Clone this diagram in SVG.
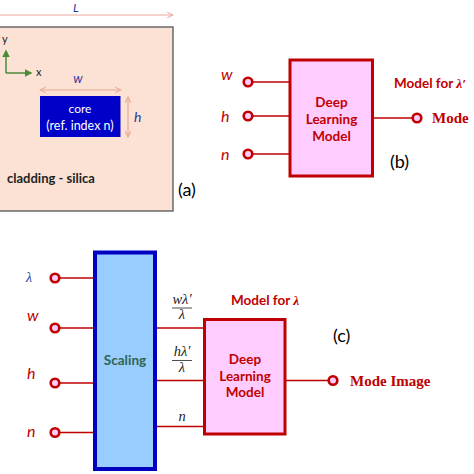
<svg xmlns="http://www.w3.org/2000/svg" width="474" height="474" viewBox="0 0 474 474">
<defs>
<style>
.sans{font-family:Lato,"Open Sans","Liberation Sans",sans-serif}
.it{font-family:Lato,"Liberation Sans",sans-serif;font-style:italic}
.dim{stroke:#e8a898;stroke-width:1.2;fill:none}
.dl{fill:#ffccff;stroke:#c00000;stroke-width:3}
.dlt{font-family:Lato,"Open Sans","Liberation Sans",sans-serif;font-weight:bold;font-size:13.5px;fill:#c00000;text-anchor:middle}
.wire{stroke:#c00000;stroke-width:1.4;fill:none}
.port{fill:#ffccff;stroke:#c00000;stroke-width:2.6}
.lab{font-family:Lato,"Liberation Sans",sans-serif;font-style:italic;font-size:16px;fill:#c00000}
.frac{font-family:"Liberation Serif",serif;font-style:italic;font-size:14.5px;fill:#222;text-anchor:middle}
.panel{font-family:Lato,"Open Sans","Liberation Sans",sans-serif;font-size:18px;fill:#000}
</style>
<marker id="ah" viewBox="0 0 10 10" refX="9" refY="5" markerWidth="6" markerHeight="6" orient="auto-start-reverse"><path d="M1,1 L9,5 L1,9" fill="none" stroke="#e8a898" stroke-width="1.5"/></marker>
<marker id="ag" viewBox="0 0 10 10" refX="8" refY="5" markerWidth="5" markerHeight="5" orient="auto"><path d="M0,0 L10,5 L0,10 z" fill="#4a8a3a"/></marker>
</defs>
<rect width="474" height="474" fill="#fff"/>

<g id="panel-a">
<rect x="-5" y="27" width="178" height="184" fill="#fbe2d4" stroke="#555" stroke-width="1.3"/>
<line x1="0" y1="15" x2="173" y2="15" class="dim" marker-end="url(#ah)"/>
<text x="73" y="12" class="it" font-size="12" fill="#2b3aa0">L</text>
<text x="2" y="43" class="sans" font-size="11" fill="#222">y</text>
<line x1="6" y1="73" x2="6" y2="51" stroke="#4a8a3a" stroke-width="1.5" marker-end="url(#ag)"/>
<line x1="6" y1="73" x2="31" y2="73" stroke="#4a8a3a" stroke-width="1.5" marker-end="url(#ag)"/>
<text x="36" y="76" class="sans" font-size="11" fill="#222">x</text>
<text x="78" y="83" class="it" font-size="13" fill="#2b3aa0" text-anchor="middle">w</text>
<line x1="40" y1="90" x2="121" y2="90" class="dim" marker-start="url(#ah)" marker-end="url(#ah)"/>
<g id="core">
<rect x="40" y="96" width="80.5" height="41" fill="#0000c8"/>
<text x="80" y="113" class="sans" font-size="12" fill="#fff" text-anchor="middle">core</text>
<text x="80" y="130" class="sans" font-size="12.5" fill="#fff" text-anchor="middle">(ref. index n)</text>
</g>
<line x1="128" y1="97" x2="128" y2="137" class="dim" marker-start="url(#ah)" marker-end="url(#ah)"/>
<text x="134" y="122" class="it" font-size="14" fill="#2b3aa0">h</text>
<text x="7" y="183" class="sans" font-size="13" font-weight="bold" fill="#222">cladding - silica</text>
<text x="178" y="196" class="panel">(a)</text>
</g>

<g id="panel-b">
<g id="dl-b">
<rect x="290" y="60" width="82.5" height="116" class="dl"/>
<text x="331.5" y="107" class="dlt">Deep</text>
<text x="331.5" y="124" class="dlt">Learning</text>
<text x="331.5" y="140.5" class="dlt">Model</text>
</g>
<g id="wires-b">
<line x1="248" y1="82" x2="290" y2="82" class="wire"/>
<line x1="248" y1="116" x2="290" y2="116" class="wire"/>
<line x1="248" y1="154" x2="290" y2="154" class="wire"/>
<line x1="372" y1="118" x2="417" y2="118" class="wire"/>
</g>
<circle cx="248" cy="82" r="4.3" class="port"/>
<circle cx="248" cy="116" r="4.3" class="port"/>
<circle cx="248" cy="154" r="4.3" class="port"/>
<circle cx="417" cy="118" r="4.3" class="port"/>
<text x="221" y="80" class="lab">w</text>
<text x="221" y="122" class="lab">h</text>
<text x="221" y="160" class="lab">n</text>
<text x="394" y="88" class="sans" font-size="13.5" font-weight="bold" fill="#c00000">Model for <tspan font-family="Liberation Serif,serif" font-style="italic">λ′</tspan></text>
<text x="432" y="123" font-family="Liberation Serif,serif" font-weight="bold" font-size="15" fill="#c00000">Mode</text>
<text x="390" y="168" class="panel">(b)</text>
</g>

<g id="panel-c">
<g id="scaling">
<rect x="95" y="252.5" width="60" height="216.5" fill="#99ccff" stroke="#0000c0" stroke-width="4"/>
<text x="125" y="365" class="sans" font-size="13.5" font-weight="bold" fill="#2e6650" text-anchor="middle">Scaling</text>
</g>
<g id="dl-c">
<rect x="204.5" y="319.5" width="80.5" height="114.5" class="dl"/>
<text x="245" y="364" class="dlt">Deep</text>
<text x="245" y="381" class="dlt">Learning</text>
<text x="245" y="397" class="dlt">Model</text>
</g>
<g id="wires-c">
<line x1="55" y1="278" x2="93" y2="278" class="wire"/>
<line x1="55" y1="328" x2="93" y2="328" class="wire"/>
<line x1="55" y1="383" x2="93" y2="383" class="wire"/>
<line x1="55" y1="432.5" x2="93" y2="432.5" class="wire"/>
<line x1="157" y1="328" x2="203" y2="328" class="wire"/>
<line x1="157" y1="380.5" x2="203" y2="380.5" class="wire"/>
<line x1="157" y1="426.5" x2="203" y2="426.5" class="wire"/>
<line x1="286" y1="380.5" x2="333" y2="380.5" class="wire"/>
</g>
<circle cx="55" cy="278" r="4.3" class="port"/>
<circle cx="55" cy="328" r="4.3" class="port"/>
<circle cx="55" cy="383" r="4.3" class="port"/>
<circle cx="55" cy="432.5" r="4.3" class="port"/>
<circle cx="333" cy="380.5" r="4.3" class="port"/>
<text x="26" y="282" font-family="Liberation Serif,serif" font-style="italic" font-size="14" fill="#2b3aa0">λ</text>
<text x="27" y="321" class="lab">w</text>
<text x="27" y="379" class="lab">h</text>
<text x="27" y="437" class="lab">n</text>
<g id="fracs">
<text x="182" y="304" class="frac">wλ′</text>
<line x1="172" y1="308" x2="192" y2="308" stroke="#222" stroke-width="0.8"/>
<text x="182" y="318.5" class="frac">λ</text>
<text x="182" y="356" class="frac">hλ′</text>
<line x1="172" y1="360.5" x2="192" y2="360.5" stroke="#222" stroke-width="0.8"/>
<text x="182" y="372" class="frac">λ</text>
<text x="182" y="421" class="frac">n</text>
</g>
<text x="231" y="305" class="sans" font-size="13.5" font-weight="bold" fill="#c00000">Model for <tspan font-family="Liberation Serif,serif" font-style="italic">λ</tspan></text>
<text x="333" y="342" class="panel">(c)</text>
<text x="350" y="386" font-family="Liberation Serif,serif" font-weight="bold" font-size="15" fill="#c00000">Mode Image</text>
</g>
</svg>
